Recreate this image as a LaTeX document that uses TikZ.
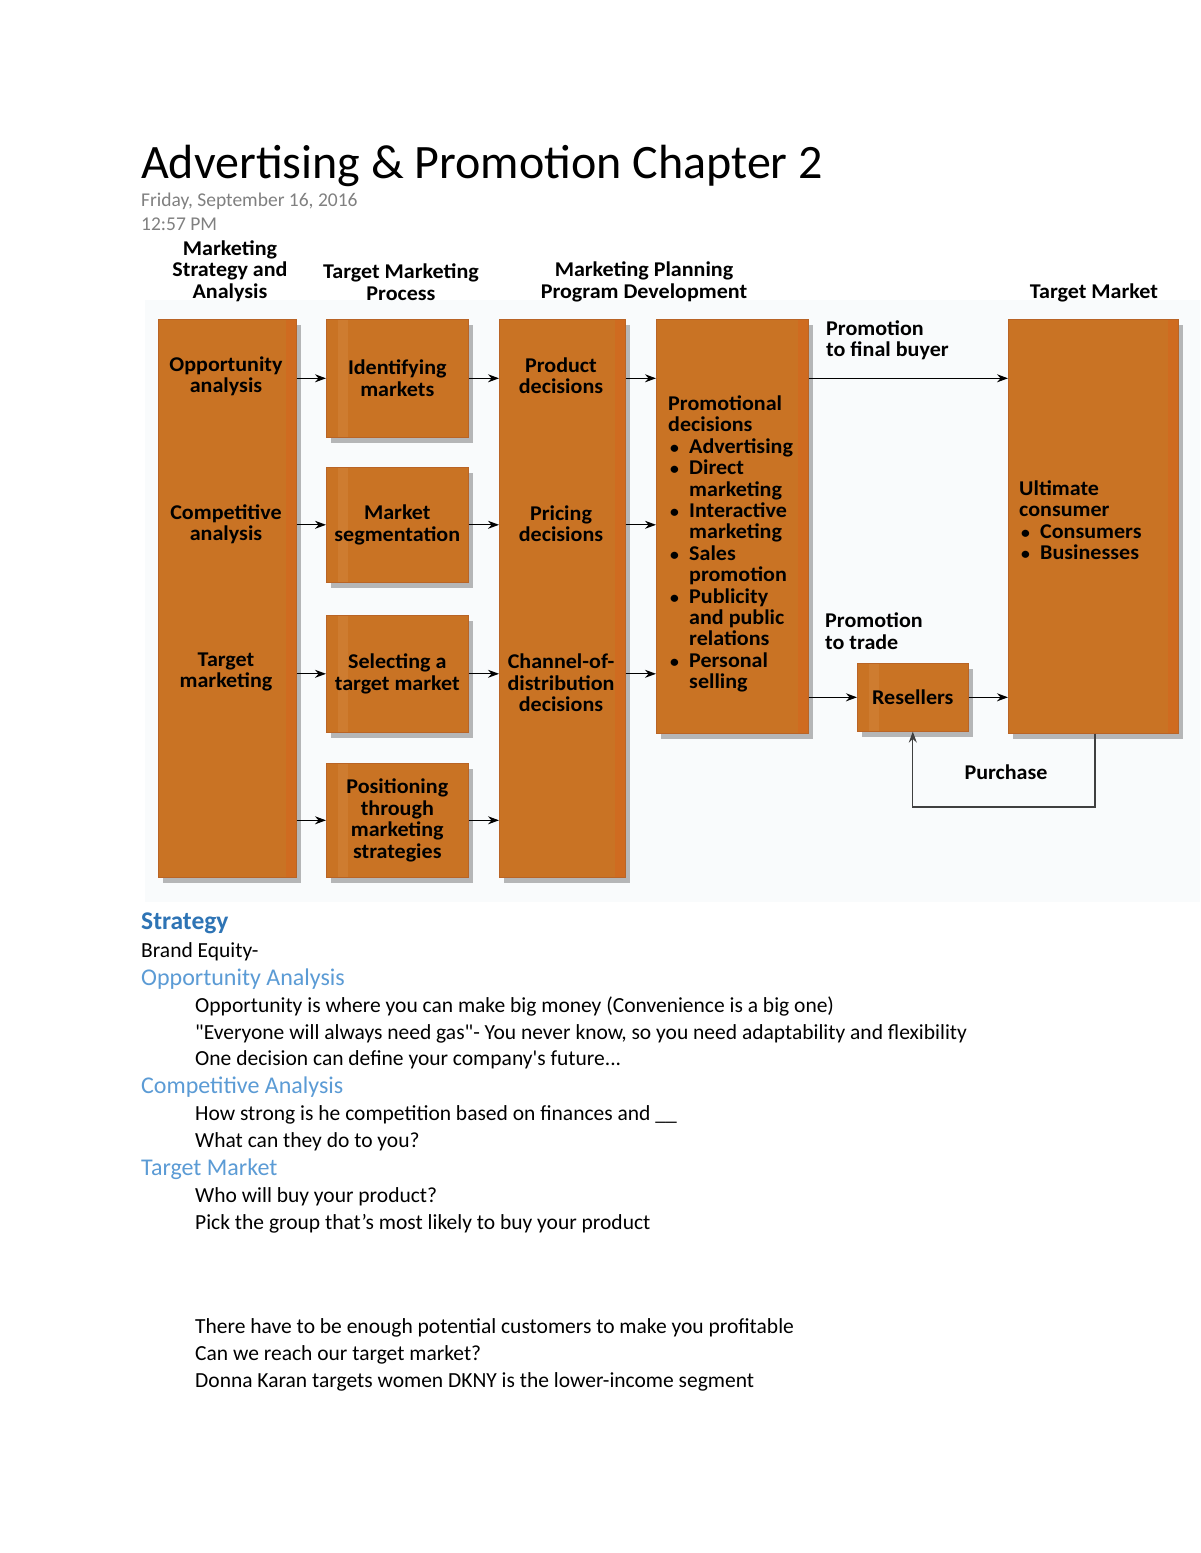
\documentclass[tikz,border=0pt]{standalone}
\usepackage{fontspec}
\setmainfont{Carlito}
\newfontfamily\diagfont[FakeStretch=1.05]{Carlito}
\usetikzlibrary{shadows,arrows.meta}
\definecolor{boxor}{RGB}{201,115,36}
\definecolor{boxedge}{RGB}{185,100,38}
\definecolor{boxstrip}{RGB}{207,107,32}
\definecolor{boxlight}{RGB}{206,124,48}
\definecolor{datecol}{RGB}{128,128,128}
\definecolor{headdark}{RGB}{46,116,181}
\definecolor{headlight}{RGB}{91,155,213}
\definecolor{diagbg}{RGB}{249,251,252}
\newcommand{\sq}{\XeTeXglyph\XeTeXcharglyph"0027\relax}
\newcommand{\dq}{\XeTeXglyph\XeTeXcharglyph"0022\relax}
\begin{document}
\begin{tikzpicture}[x=1pt,y=-1pt,
  box/.style={draw=boxedge,line width=0.6pt,fill=boxor,anchor=north west,inner sep=0pt,
    drop shadow={shadow xshift=5pt,shadow yshift=-6pt,fill=black!55,opacity=0.5}},
  lbl/.style={font=\diagfont\fontsize{21}{21.4}\selectfont\bfseries,align=center,inner sep=0pt},
  lbll/.style={font=\diagfont\fontsize{21}{21.4}\selectfont\bfseries,align=left,inner sep=0pt,anchor=west},
  arr/.style={-{Stealth[length=11pt,width=8pt]},line width=1.1pt,black},
  body/.style={font=\fontsize{21.5}{24}\selectfont,anchor=base west,inner sep=0pt},
  headl/.style={font=\fontsize{24}{26}\selectfont,text=headlight,anchor=base west,inner sep=0pt},
]
\useasboundingbox (0,0) rectangle (1200,1553);
\fill[white] (0,0) rectangle (1200,1553);
\fill[diagbg] (145,300) rectangle (1200,902);

% title and date
\node[font=\fontsize{48}{50}\selectfont,anchor=base west,inner sep=0pt] (title) at (141,178) {Advertising \& Promotion Chapter 2};
\node[font=\fontsize{19.5}{21}\selectfont,text=datecol,anchor=base west,inner sep=0pt] (date) at (141,206) {Friday, September 16, 2016};
\node[font=\fontsize{19.5}{21}\selectfont,text=datecol,anchor=base west,inner sep=0pt] (time) at (141,230) {12:57 PM};

% column headers
\node[lbl] (h1) at (230,271) {Marketing\\Strategy and\\Analysis};
\node[lbl] (h2) at (401,282) {Target Marketing\\Process};
\node[lbl] (h3) at (644,282) {Marketing Planning\\Program Development};
\node[lbl] (h4) at (1094,293) {Target Market};

% boxes
\node[box,minimum width=138pt,minimum height=558pt] (c1) at (158,319) {};
\node[box,minimum width=142pt,minimum height=118pt] (id) at (326,319) {};
\node[box,minimum width=142pt,minimum height=115pt] (ms) at (326,467) {};
\node[box,minimum width=142pt,minimum height=117pt] (st) at (326,615) {};
\node[box,minimum width=142pt,minimum height=114pt] (po) at (326,763) {};
\node[box,minimum width=126pt,minimum height=558pt] (c3) at (499,319) {};
\node[box,minimum width=152pt,minimum height=414pt] (c4) at (656,319) {};
\node[box,minimum width=111pt,minimum height=68pt] (res) at (857,663) {};
\node[box,minimum width=170pt,minimum height=414pt] (tm) at (1008,319) {};

% subtle strips on the boxes
\foreach \b in {c1,c3,c4,tm}{
  \fill[boxstrip] ([xshift=-11pt,yshift=-1pt]\b.north east) rectangle ([xshift=-1pt,yshift=1pt]\b.south east);
}
\foreach \b in {id,ms,st,po,res}{
  \fill[boxlight] ([xshift=12pt,yshift=-1pt]\b.north west) rectangle ([xshift=22pt,yshift=1pt]\b.south west);
}

% box texts
\node[lbl] (oa) at (226,376) {Opportunity\\analysis};
\node[lbl] (ca) at (226,524) {Competitive\\analysis};
\node[lbl] (tg) at (226,672) {Target\\marketing};
\node[lbl] at (id.center) {Identifying\\markets};
\node[lbl] at (ms.center) {Market\\segmentation};
\node[lbl] at (st.center) {Selecting a\\target market};
\node[lbl] at (po.center) {Positioning\\through\\marketing\\strategies};
\node[lbl] (pd) at (561,376) {Product\\decisions};
\node[lbl] (pr) at (561,524) {Pricing\\decisions};
\node[lbl] (ch) at (561,683) {Channel-of-\\distribution\\decisions};
\newcommand{\bul}{\makebox[21pt][l]{\hspace{2pt}\scalebox{0.8}{•}}}
\newcommand{\ind}{\hspace{21pt}}
\node[lbll] (prom) at (668,544) {Promotional\\decisions\\\bul Advertising\\\bul Direct\\\ind marketing\\\bul Interactive\\\ind marketing\\\bul Sales\\\ind promotion\\\bul Publicity\\\ind and public\\\ind relations\\\bul Personal\\\ind selling};
\node[lbl] at (res.center) {Resellers};
\node[lbll] (uc) at (1019,520) {Ultimate\\consumer\\\bul Consumers\\\bul Businesses};

% connector labels
\node[lbll] (pfb) at (826,340) {Promotion\\to final buyer};
\node[lbll] (ptt) at (825,631) {Promotion\\to trade};
\node[lbl] (pur) at (1006,772) {Purchase};

% arrows
\draw[arr] (c1.east |- id.west) -- (id.west);
\draw[arr] (c1.east |- ms.west) -- (ms.west);
\draw[arr] (c1.east |- st.west) -- (st.west);
\draw[arr] (c1.east |- po.west) -- (po.west);
\draw[arr] (id.east) -- (c3.west |- id.east);
\draw[arr] (ms.east) -- (c3.west |- ms.east);
\draw[arr] (st.east) -- (c3.west |- st.east);
\draw[arr] (po.east) -- (c3.west |- po.east);
\draw[arr] (c3.east |- id.east) -- (c4.west |- id.east);
\draw[arr] (c3.east |- ms.east) -- (c4.west |- ms.east);
\draw[arr] (c3.east |- st.east) -- (c4.west |- st.east);
\draw[arr] (c4.east |- id.east) -- (tm.west |- id.east);
\draw[arr,line width=1.6pt] (c4.east |- res.west) -- (res.west);
\draw[arr,line width=1.6pt] (res.east) -- (tm.west |- res.east);
\coordinate (pb) at (1095,807);
\draw[arr,line width=1.3pt,black!75] (tm.south -| pb) -- (pb) -| (res.south);

% notes
\node[headl,text=headdark,font=\fontsize{25.5}{27}\selectfont\bfseries] (s1) at (141,929) {Strategy};
\node[body] (b1) at (141,957) {Brand Equity-};
\node[headl] (s2) at (141,985) {Opportunity Analysis};
\node[body] (l1) at (195,1012) {Opportunity is where you can make big money (Convenience is a big one)};
\node[body] (l2) at (195,1039) {\dq Everyone will always need gas\dq- You never know, so you need adaptability and flexibility};
\node[body] (l3) at (195,1065) {One decision can define your company\sq s future...};
\node[headl] (s3) at (141,1093) {Competitive Analysis};
\node[body] (l4) at (195,1120) {How strong is he competition based on finances and \_\_};
\node[body] (l5) at (195,1147) {What can they do to you?};
\node[headl] (s4) at (141,1175) {Target Market};
\node[body] (l6) at (195,1202) {Who will buy your product?};
\node[body] (l7) at (195,1229) {Pick the group that’s most likely to buy your product};
\node[body] (l8) at (195,1333) {There have to be enough potential customers to make you profitable};
\node[body] (l9) at (195,1360) {Can we reach our target market?};
\node[body] (l10) at (195,1387) {Donna Karan targets women DKNY is the lower-income segment};
\end{tikzpicture}
\end{document}
